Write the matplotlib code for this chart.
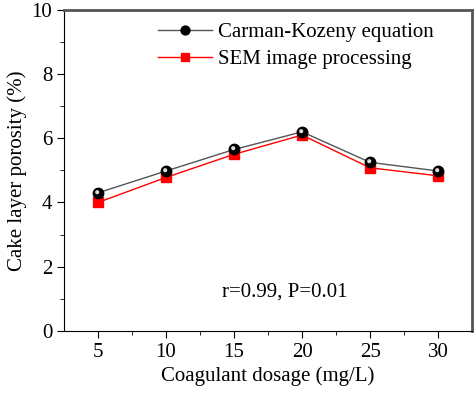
import matplotlib
matplotlib.use('Agg')
import matplotlib.pyplot as plt
from matplotlib.path import Path
import numpy as np

plt.rcParams['font.family'] = 'Liberation Serif'

dosage = [5, 10, 15, 20, 25, 30]
carman_kozeny = [4.3, 4.98, 5.65, 6.2, 5.25, 4.98]
sem_processing = [4.0, 4.78, 5.5, 6.1, 5.08, 4.83]

# small off-centre highlight to make the black balls look shaded
t = np.linspace(0, 2 * np.pi, 20)
verts = [(-1, -1)] + [(-0.25 + 0.4 * np.cos(a), 0.25 + 0.4 * np.sin(a)) for a in t] + [(1, 1)]
codes = [Path.MOVETO, Path.MOVETO] + [Path.LINETO] * (len(t) - 1) + [Path.MOVETO]
shine = Path(verts, codes)

fig = plt.figure(figsize=(4.74, 3.93), dpi=100)
ax = fig.add_axes([0.135, 0.158, 0.861, 0.817])

ax.plot(dosage, carman_kozeny, color='#555555', lw=1.0, marker='o', ms=7.5,
        mfc='black', mec='black', label='Carman-Kozeny equation', zorder=3)
ax.plot(dosage, carman_kozeny, ls='none', marker=shine, ms=7.5, mfc='#dddddd',
        mec='none', zorder=4)
ax.plot(dosage, sem_processing, color='red', lw=1.0, marker='s', ms=7,
        mfc='red', mec='red', label='SEM image processing', zorder=2)

ax.set_xlim(2.5, 32.5)
ax.set_ylim(0, 10)
ax.set_xticks([5, 10, 15, 20, 25, 30])
ax.set_xticks([7.5, 12.5, 17.5, 22.5, 27.5], minor=True)
ax.set_yticks([0, 2, 4, 6, 8, 10])
ax.set_yticks([1, 3, 5, 7, 9], minor=True)
ax.tick_params(axis='both', which='major', labelsize=15, direction='out', length=5)
ax.tick_params(axis='both', which='minor', direction='out', length=3)

ax.set_xlabel('Coagulant dosage (mg/L)', fontsize=15, labelpad=3)
ax.set_ylabel('Cake layer porosity (%)', fontsize=15, labelpad=3)

for s in ['top', 'right']:
    ax.spines[s].set_linewidth(2)
    ax.spines[s].set_color('#555555')

ax.text(18.75, 1.2, 'r=0.99, P=0.01', fontsize=15, ha='center', va='center')

ax.legend(loc='upper right', frameon=False, fontsize=15, handlelength=2.6,
          handletextpad=0.3, labelspacing=0.35, bbox_to_anchor=(0.953, 1.019),
          markerscale=0.85)

fig.savefig('out.png', dpi=100)
